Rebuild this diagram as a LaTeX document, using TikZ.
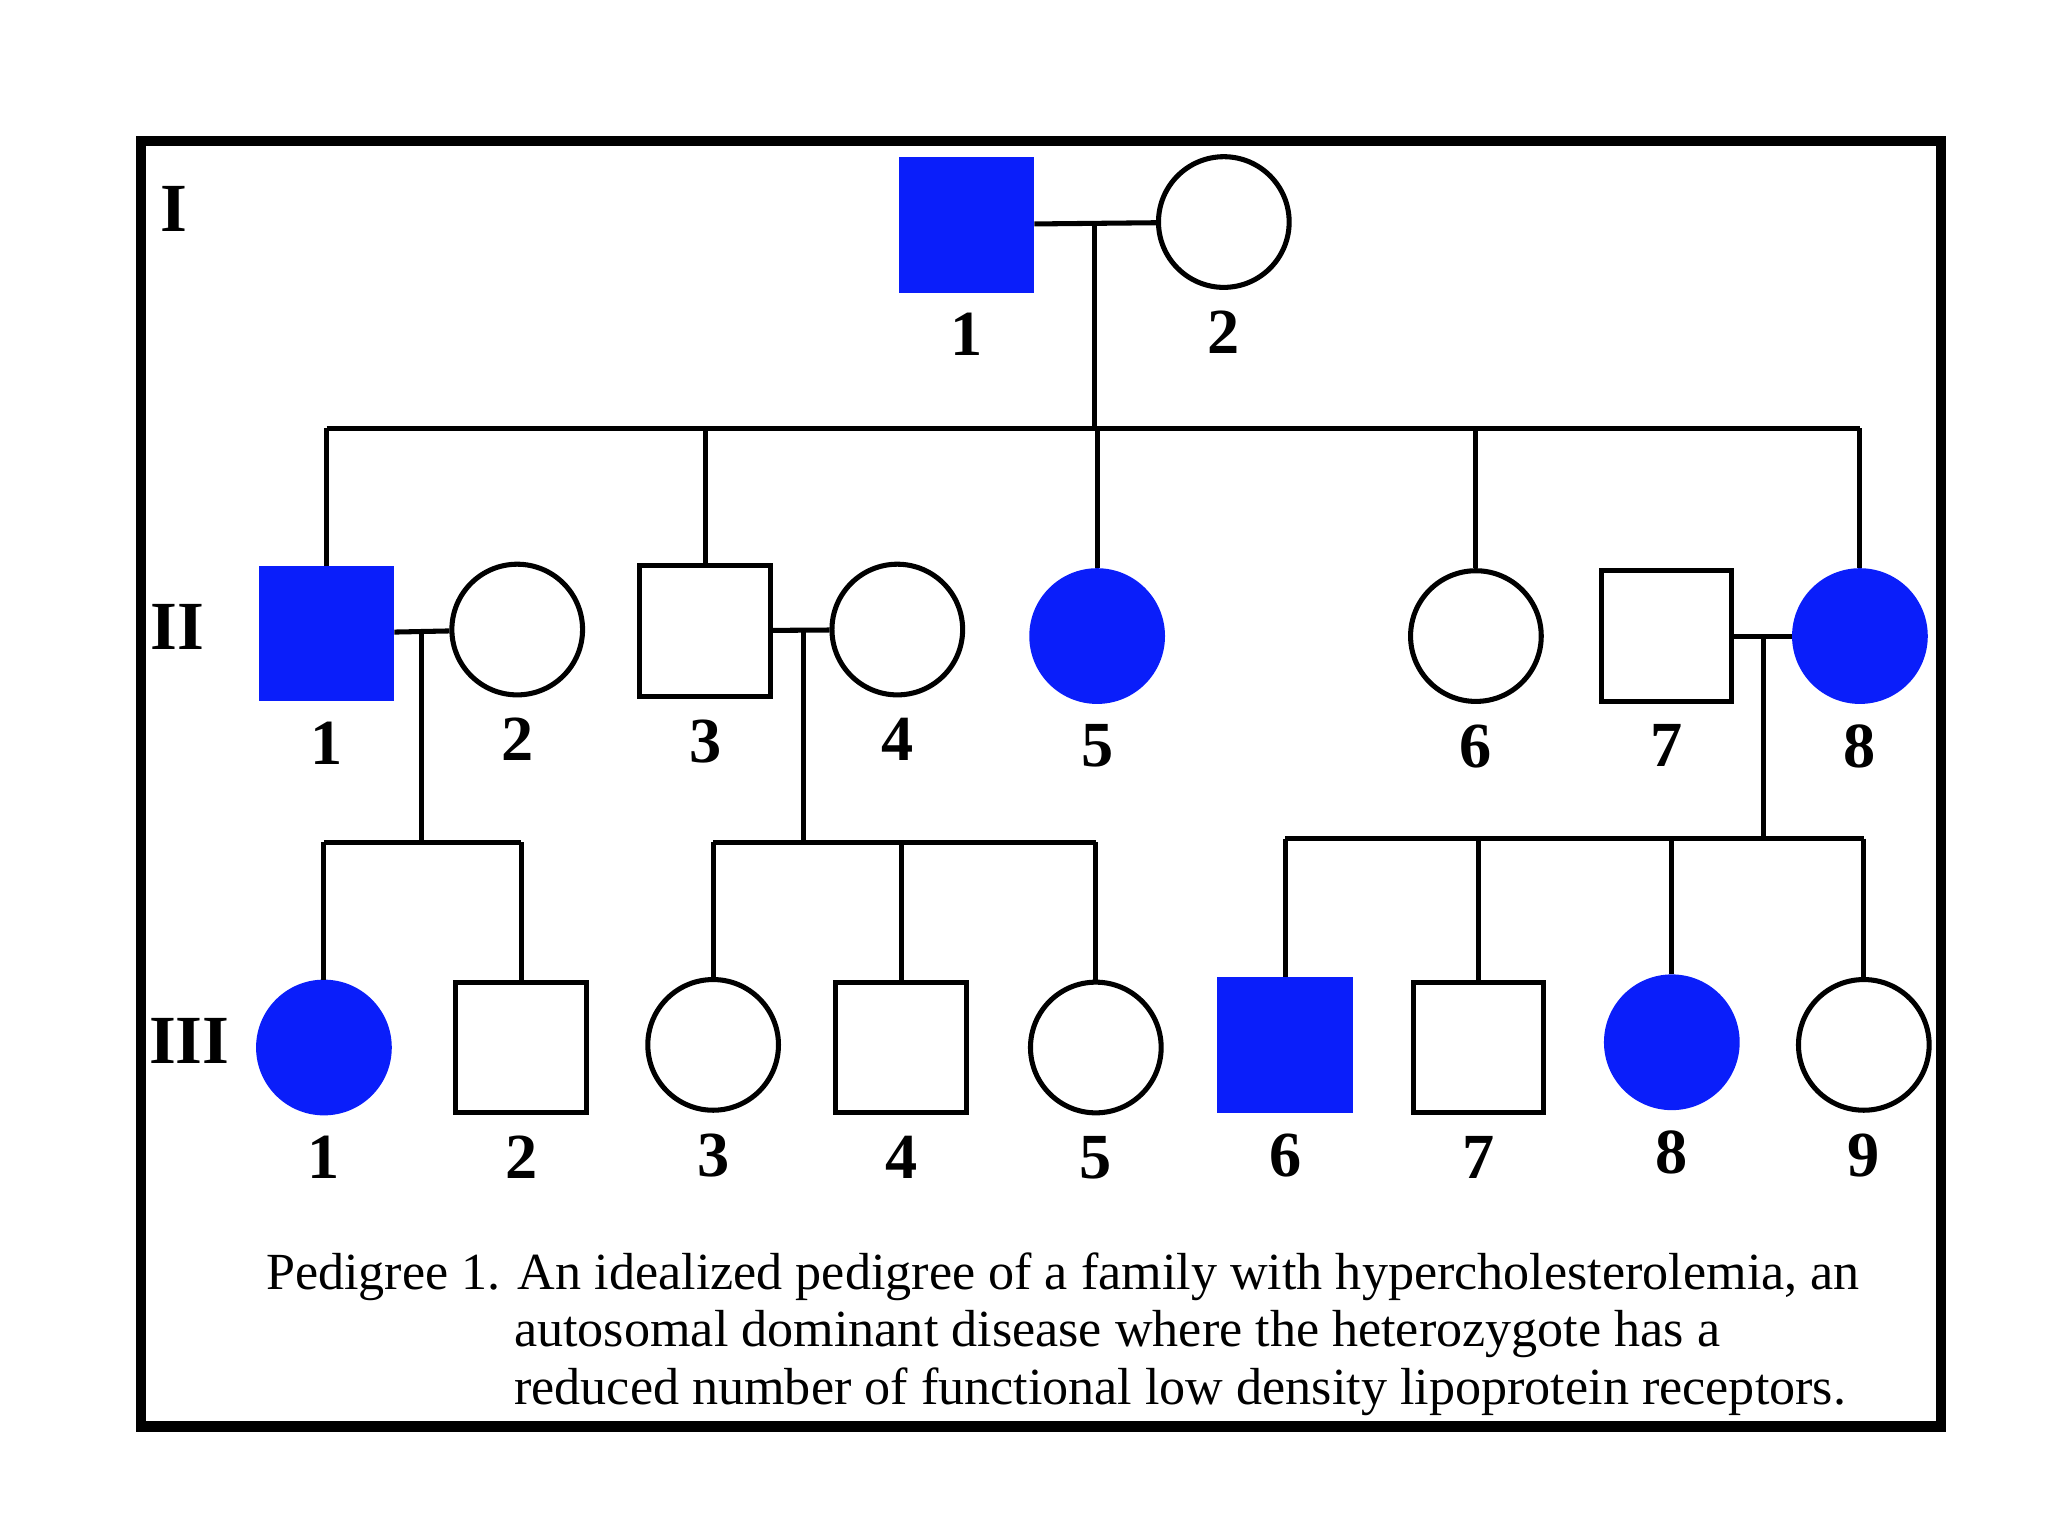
\documentclass[tikz,border=0pt]{standalone}
\usepackage{fontspec}
\setmainfont{Liberation Serif}
\definecolor{aff}{RGB}{10,30,250}
\tikzset{
  ln/.style={line width=1.1pt},
  sq/.style={rectangle, draw, ln, minimum size=1cm, inner sep=0pt},
  ci/.style={circle, draw, ln, minimum size=1cm, inner sep=0pt},
  on/.style={fill=aff, draw=aff},
  lab/.style={font=\fontsize{14}{14}\selectfont\bfseries, label distance=1pt},
  gen/.style={font=\fontsize{15}{15}\selectfont\bfseries},
  captxt/.style={font=\fontsize{11.35}{12}\selectfont, anchor=base west, inner sep=0pt}
}
\begin{document}
\begin{tikzpicture}[x=0.01cm, y=-0.01cm]
\useasboundingbox (0,0) rectangle (1568,1176);
\draw[line width=2.3pt] (108,108) rectangle (1486,1092);

\node[gen] (gI) at (133,160) {I};
\node[gen] (gII) at (136,480) {II};
\node[gen] (gIII) at (145,797) {III};

% generation I
\node[sq,on,label={[lab]below:1}] (a1) at (740,172) {};
\node[ci,label={[lab]below:2}] (a2) at (937,170) {};
\draw[ln] (a1) -- (a2);
\coordinate (m1) at (838,170);
\coordinate (s1) at (838,328);
\draw[ln] (m1) -- (s1);

% generation II
\node[sq,on,label={[lab]below:1}] (b1) at (250,485) {};
\node[ci,label={[lab]below:2}] (b2) at (396,482) {};
\node[sq,label={[lab]below:3}] (b3) at (540,483) {};
\node[ci,label={[lab]below:4}] (b4) at (687,482) {};
\node[ci,on,label={[lab]below:5}] (b5) at (840,487) {};
\node[ci,label={[lab]below:6}] (b6) at (1130,487) {};
\node[sq,label={[lab]below:7}] (b7) at (1276,487) {};
\node[ci,on,label={[lab]below:8}] (b8) at (1424,487) {};
\draw[ln] (b1.north |- s1) -- (b8.north |- s1);
\foreach \n in {b1,b3,b5,b6,b8} \draw[ln] (\n.north |- s1) -- (\n.north);
\draw[ln] (b1) -- (b2);
\draw[ln] (b3) -- (b4);
\draw[ln] (b7) -- (b8);

% generation III
\node[ci,on,label={[lab]below:1}] (c1) at (248,802) {};
\node[sq,label={[lab]below:2}] (c2) at (399,802) {};
\node[ci,label={[lab]below:3}] (c3) at (546,800) {};
\node[sq,label={[lab]below:4}] (c4) at (690,802) {};
\node[ci,label={[lab]below:5}] (c5) at (839,802) {};
\node[sq,on,label={[lab]below:6}] (c6) at (984,800) {};
\node[sq,label={[lab]below:7}] (c7) at (1132,802) {};
\node[ci,on,label={[lab]below:8}] (c8) at (1280,798) {};
\node[ci,label={[lab]below:9}] (c9) at (1427,800) {};

\coordinate (m2) at (323,485); \coordinate (s2) at (323,645);
\coordinate (m3) at (615,483); \coordinate (s3) at (615,645);
\coordinate (m4) at (1350,487); \coordinate (s4) at (1350,642);
\draw[ln] (m2) -- (s2);
\draw[ln] (m3) -- (s3);
\draw[ln] (m4) -- (s4);
\draw[ln] (c1.north |- s2) -- (c2.north |- s2);
\draw[ln] (c3.north |- s3) -- (c5.north |- s3);
\draw[ln] (c6.north |- s4) -- (c9.north |- s4);
\foreach \n/\s in {c1/s2,c2/s2,c3/s3,c4/s3,c5/s3,c6/s4,c7/s4,c8/s4,c9/s4}
  \draw[ln] (\n.north |- \s) -- (\n.north);

% caption
\node[captxt] (t1) at (203,987) {Pedigree 1. An idealized pedigree of a family with hypercholesterolemia, an};
\node[captxt] (t2) at (393,1031) {autosomal dominant disease where the heterozygote has a};
\node[captxt] (t3) at (393,1075) {reduced number of functional low density lipoprotein receptors.};
\end{tikzpicture}
\end{document}
